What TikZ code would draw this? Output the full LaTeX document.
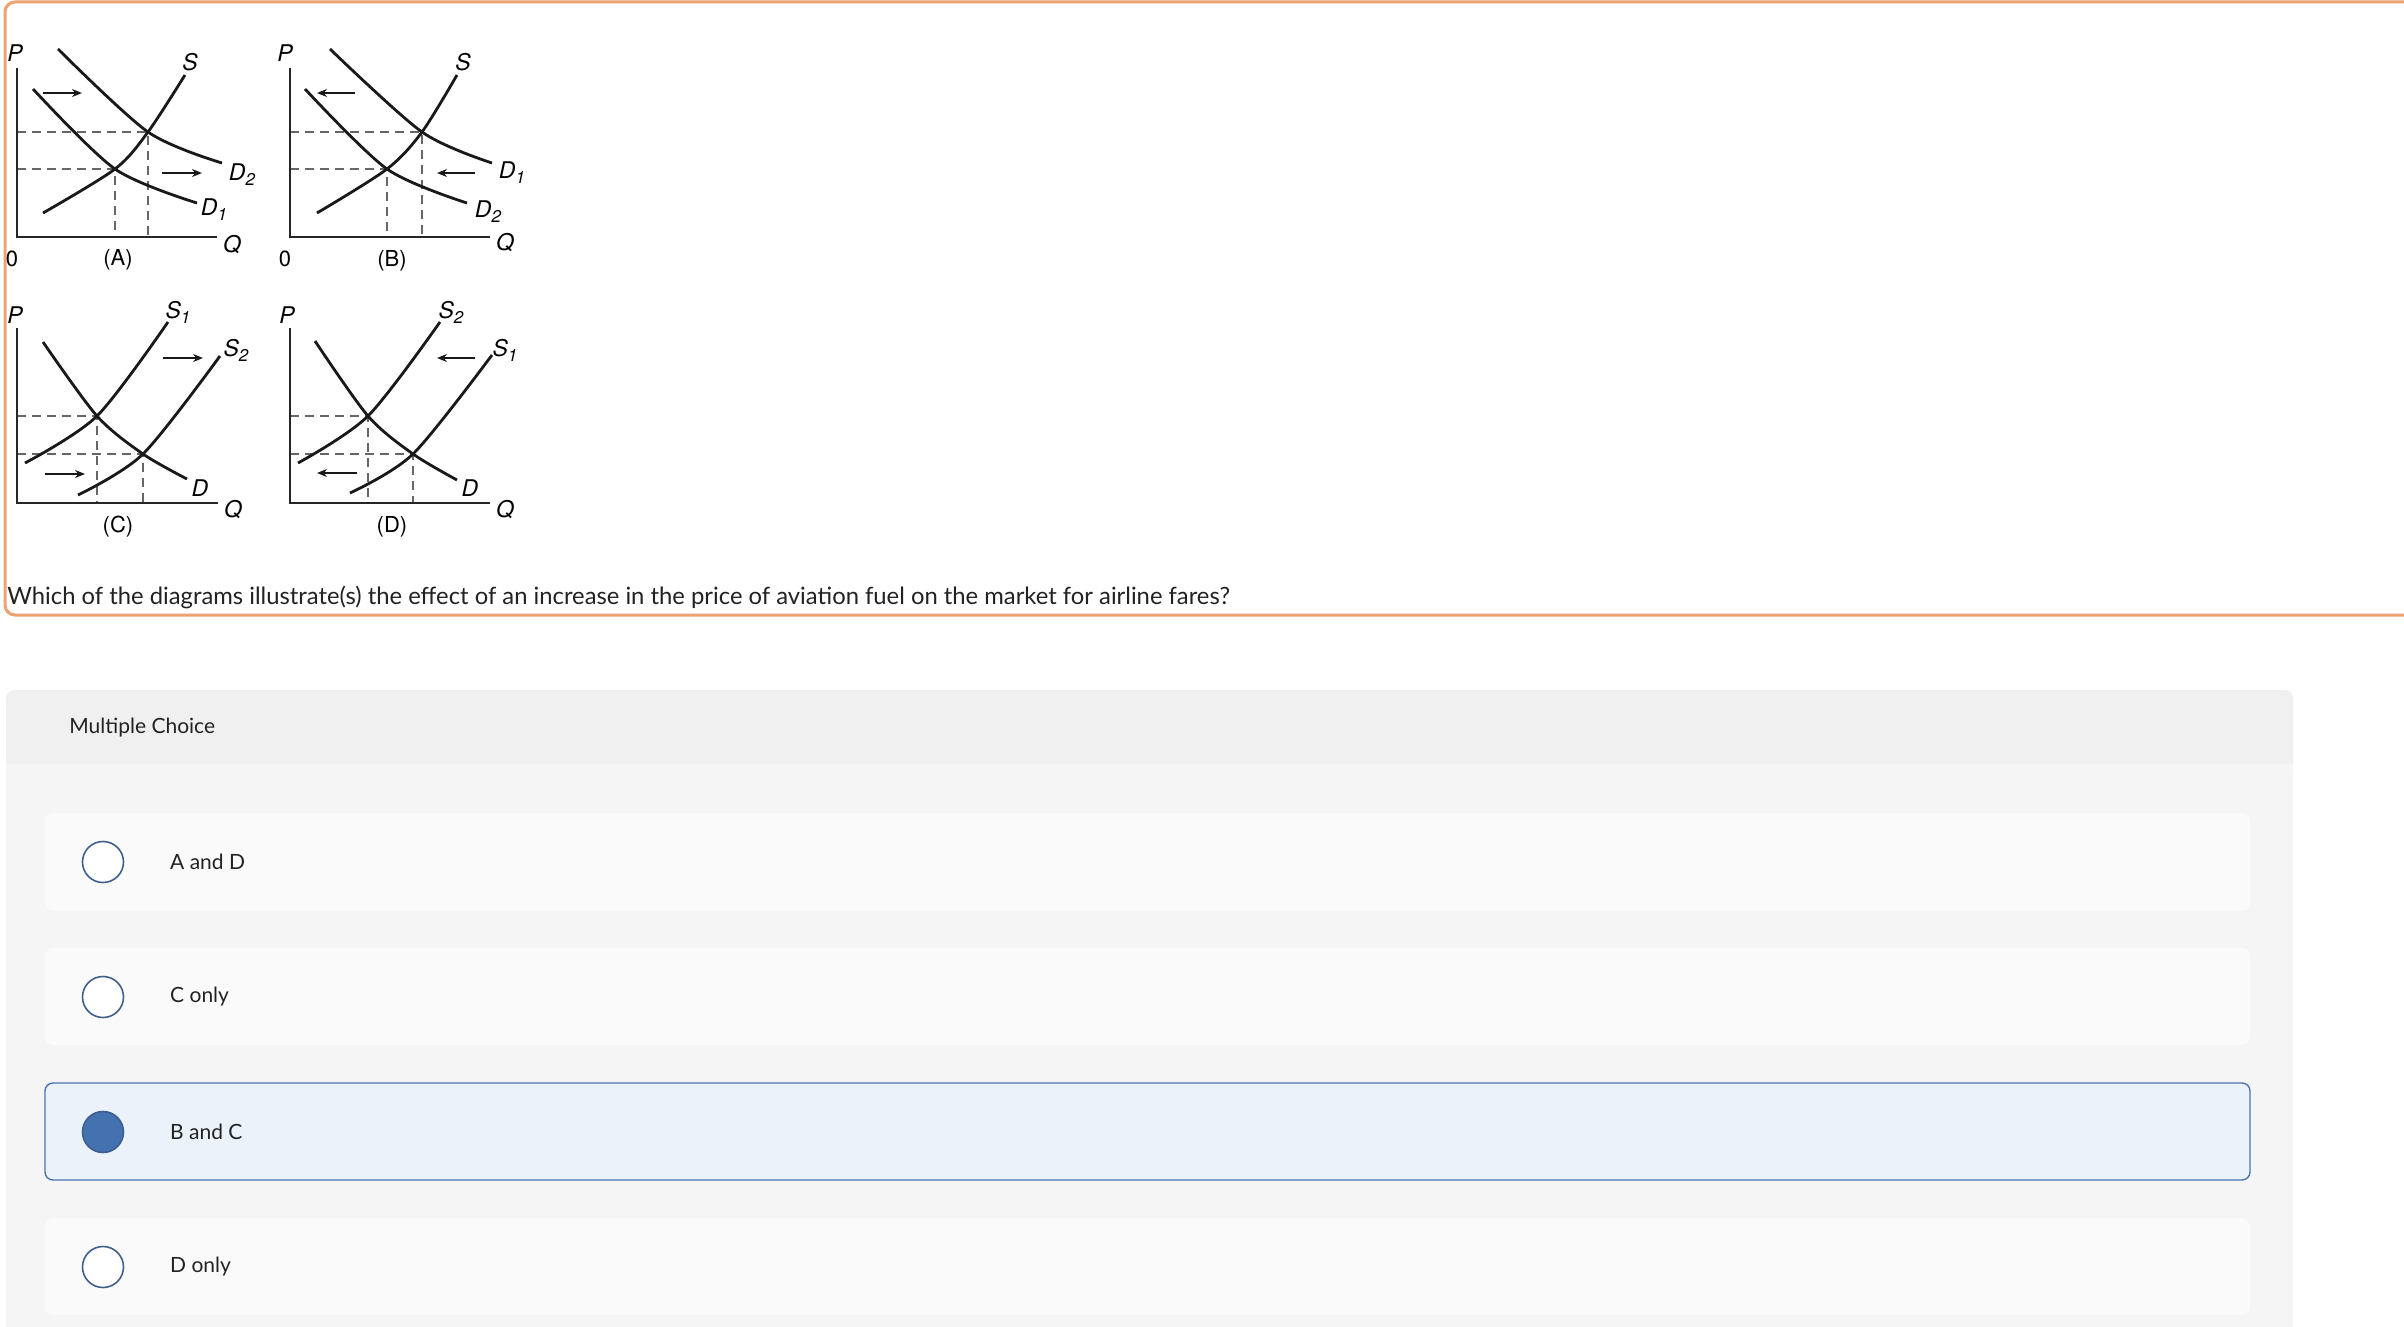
\documentclass[tikz,border=0pt]{standalone}
\usepackage{fontspec}
\setmainfont{Lato}
\newfontfamily\graphfont{TeX Gyre Heros}
\usepackage{tikz}
\usetikzlibrary{positioning,arrows.meta}
\definecolor{frameorange}{HTML}{EDA272}
\definecolor{headgray}{HTML}{F0F0F0}
\definecolor{panelgray}{HTML}{F5F5F5}
\definecolor{optgray}{HTML}{FAFAFA}
\definecolor{selfill}{HTML}{EBF2FA}
\definecolor{selblue}{HTML}{4A75B3}
\definecolor{radioblue}{HTML}{3F5F8C}
\definecolor{dotblue}{HTML}{4472B0}
\definecolor{textgray}{HTML}{222222}
\newcommand{\lowidx}[1]{\raisebox{-0.4ex}{\fontsize{8.5}{9}\selectfont #1}}
\tikzset{mcurve/.style = {line width=1.4pt, black!90},
         axisline/.style = {line width=1pt, black!85},
         guide/.style = {line width=1pt, black!60, dash pattern=on 4.5pt off 3pt},
         shiftarrow/.style = {line width=0.9pt, black!90, -{Stealth[length=5pt,width=4pt]}},
         lbl/.style = {font=\graphfont\itshape\fontsize{11.5}{13}\selectfont, inner sep=0pt},
         panelcap/.style = {font=\graphfont\fontsize{11}{13}\selectfont, inner sep=0pt},
         optbox/.style = {fill=optgray, rounded corners=4pt},
         radio/.style = {circle, draw=radioblue, fill=white, line width=0.8pt, minimum size=20.5pt, inner sep=0pt},
         choice/.style = {anchor=west, inner sep=0pt, text=textgray, font=\fontsize{10.5}{12}\selectfont}}

\begin{document}
\begin{tikzpicture}[x=0.5pt, y=-0.5pt]
    \useasboundingbox (0,0) rectangle (2404,1327);
    \fill [white] (0,0) rectangle (2404,1327);

    \draw [frameorange, line width=1.5pt, rounded corners=5pt] (2420,2) -- (5,2) -- (5,615) -- (2420,615);

    \begin{scope}[shift={(17,237)}, yscale=-1]
        \coordinate (eA1) at (98,68);
        \coordinate (eA2) at (131,105);
        \draw [guide] (0,68) -- (eA1) -- (98,0);
        \draw [guide] (0,105) -- (eA2) -- (131,0);
        \draw [axisline] (0,169) -- (0,0) -- (200,0);
        \draw [mcurve] plot [smooth] coordinates {(26,24) (eA1) (eA2) (168,162)};
        \draw [mcurve] plot [smooth] coordinates {(16,148) (eA1) (180,34)};
        \draw [mcurve] plot [smooth] coordinates {(41,188) (eA2) (205,74)};
        \draw [shiftarrow] (26,144) -- (65,144);
        \draw [shiftarrow] (145,64) -- (185,64);
        \node [lbl] (pA) at (-2,184) {P};
        \node [lbl] (qA) at (215,-8) {Q};
        \node [lbl] (sA) at (173,175) {S};
        \node [lbl] (dA2) at (225,62) {D\lowidx{2}};
        \node [lbl] (dA1) at (197,27) {D\lowidx{1}};
        \node [panelcap] (zeroA) at (-5,-22) {0};
        \node [panelcap] (capA) at (101,-23) {(A)};
    \end{scope}

    \begin{scope}[shift={(290,237)}, yscale=-1]
        \coordinate (eB1) at (97,68);
        \coordinate (eB2) at (132,105);
        \draw [guide] (0,68) -- (eB1) -- (97,0);
        \draw [guide] (0,105) -- (eB2) -- (132,0);
        \draw [axisline] (0,169) -- (0,0) -- (200,0);
        \draw [mcurve] plot [smooth] coordinates {(27,24) (eB1) (eB2) (167,162)};
        \draw [mcurve] plot [smooth] coordinates {(15,148) (eB1) (177,34)};
        \draw [mcurve] plot [smooth] coordinates {(40,188) (eB2) (202,74)};
        \draw [shiftarrow] (65,144) -- (27,144);
        \draw [shiftarrow] (185,64) -- (147,64);
        \node [lbl] (pB) at (-5,184) {P};
        \node [lbl] (qB) at (215,-6) {Q};
        \node [lbl] (sB) at (173,175) {S};
        \node [lbl] (dB1) at (222,64) {D\lowidx{1}};
        \node [lbl] (dB2) at (198,25) {D\lowidx{2}};
        \node [panelcap] (zeroB) at (-5,-22) {0};
        \node [panelcap] (capB) at (102,-24) {(B)};
    \end{scope}

    \begin{scope}[shift={(17,503)}, yscale=-1]
        \coordinate (eC1) at (80,87);
        \coordinate (eC2) at (126,49);
        \draw [guide] (0,87) -- (eC1) -- (80,0);
        \draw [guide] (0,49) -- (eC2) -- (126,0);
        \draw [axisline] (0,175) -- (0,0) -- (201,0);
        \draw [mcurve] plot [smooth] coordinates {(8,40) (eC1) (151,181)};
        \draw [mcurve] plot [smooth] coordinates {(61,8) (eC2) (203,147)};
        \draw [mcurve] plot [smooth] coordinates {(26,161) (eC1) (eC2) (170,24)};
        \draw [shiftarrow] (146,145) -- (186,145);
        \draw [shiftarrow] (28,29) -- (68,29);
        \node [lbl] (pC) at (-2,188) {P};
        \node [lbl] (qC) at (216,-7) {Q};
        \node [lbl] (sC1) at (161,191) {S\lowidx{1}};
        \node [lbl] (sC2) at (219,153) {S\lowidx{2}};
        \node [lbl] (dC) at (183,15) {D};
        \node [panelcap] (capC) at (101,-24) {(C)};
    \end{scope}

    \begin{scope}[shift={(290,503)}, yscale=-1]
        \coordinate (eD1) at (78,87);
        \coordinate (eD2) at (123,49);
        \draw [guide] (0,87) -- (eD1) -- (78,0);
        \draw [guide] (0,49) -- (eD2) -- (123,0);
        \draw [axisline] (0,175) -- (0,0) -- (200,0);
        \draw [mcurve] plot [smooth] coordinates {(8,40) (eD1) (150,181)};
        \draw [mcurve] plot [smooth] coordinates {(60,10) (eD2) (202,148)};
        \draw [mcurve] plot [smooth] coordinates {(25,162) (eD1) (eD2) (167,23)};
        \draw [shiftarrow] (185,145) -- (147,145);
        \draw [shiftarrow] (67,30) -- (27,30);
        \node [lbl] (pD) at (-3,188) {P};
        \node [lbl] (qD) at (215,-7) {Q};
        \node [lbl] (sD2) at (161,191) {S\lowidx{2}};
        \node [lbl] (sD1) at (215,153) {S\lowidx{1}};
        \node [lbl] (dD) at (180,15) {D};
        \node [panelcap] (capD) at (102,-24) {(D)};
    \end{scope}

    \node [anchor=west, inner sep=0pt, text=textgray, font=\fontsize{11.9}{14}\selectfont] (question) at (7,597)
        {Which of the diagrams illustrate(s) the effect of an increase in the price of aviation fuel on the market for airline fares?};

    \fill [headgray, rounded corners=4pt] (6,690) rectangle (2293,780);
    \fill [panelgray] (6,764) rectangle (2293,1340);
    \node [choice] (mc) at (69,728) {Multiple Choice};

    \fill [optbox] (45,813) rectangle (2250,911);
    \fill [optbox] (45,948) rectangle (2250,1045);
    \filldraw [fill=selfill, draw=selblue, line width=0.7pt, rounded corners=4pt] (45,1083) rectangle (2250,1180);
    \fill [optbox] (45,1218) rectangle (2250,1315);

    \node [radio] (r1) at (103,862) {};
    \node [radio] (r2) at (103,997) {};
    \node [radio, fill=dotblue] (r3) at (103,1132) {};
    \node [radio] (r4) at (103,1267) {};
    \node [choice, right=22.75pt of r1] (t1) {A and D};
    \node [choice, right=22.75pt of r2] (t2) {C only};
    \node [choice, right=22.75pt of r3] (t3) {B and C};
    \node [choice, right=22.75pt of r4] (t4) {D only};
\end{tikzpicture}
\end{document}
